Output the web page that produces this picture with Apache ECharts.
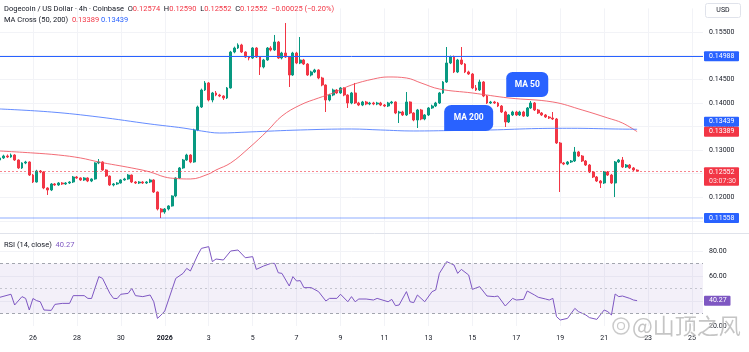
<!DOCTYPE html>
<html><head><meta charset="utf-8">
<script src="https://cdn.jsdelivr.net/npm/echarts@6/dist/echarts.min.js"></script>
<style>html,body{margin:0;padding:0;background:#fff}#c{width:749px;height:352px}</style>
</head><body><div id="c"></div>
<script>
// ---------- data ----------
const startUtc = [2025, 11, 24, 12];   // first 4h candle: 24 Dec 2025 12:00
const categoryCount = 193;             // 4h slots shown on the time axis
const tickDates = ['2025-12-26','2025-12-28','2025-12-30','2026-01-01','2026-01-03','2026-01-05','2026-01-07','2026-01-09','2026-01-11','2026-01-13','2026-01-15','2026-01-17','2026-01-19','2026-01-21','2026-01-23','2026-01-25'];
const tickLabels = ['26','28','30','2026','3','5','7','9','11','13','15','17','19','21','23','25'];

const opens = [
0.12788,0.12831,0.12873,0.12852,0.12894,0.12788,0.12619,0.12725,0.12746,0.12470,
0.12322,0.12555,0.12534,0.12195,0.12153,0.12280,0.12259,0.12301,0.12280,0.12301,
0.12322,0.12428,0.12407,0.12365,0.12407,0.12343,0.12386,0.12725,0.12746,0.12576,
0.12449,0.12259,0.12280,0.12301,0.12365,0.12386,0.12470,0.12322,0.12301,0.12322,
0.12301,0.12322,0.12365,0.12110,0.11750,0.11687,0.11750,0.11814,0.12026,0.12407,
0.12619,0.12788,0.12894,0.12746,0.13424,0.13911,0.14271,0.14420,0.14059,0.14208,
0.14165,0.14144,0.14102,0.14314,0.15076,0.15161,0.15225,0.15076,0.14970,0.14949,
0.15161,0.14970,0.14759,0.14907,0.15161,0.15119,0.15288,0.14949,0.15055,0.14970,
0.14589,0.15055,0.14843,0.14907,0.14822,0.14589,0.14653,0.14695,0.14526,0.14377,
0.14059,0.14165,0.14271,0.14208,0.14314,0.14165,0.13996,0.14208,0.13996,0.13953,
0.14017,0.13975,0.13996,0.13975,0.13996,0.13953,0.13932,0.13996,0.14017,0.13784,
0.13805,0.13742,0.14017,0.13784,0.13636,0.13848,0.13657,0.13742,0.13890,0.13932,
0.13996,0.14208,0.14441,0.14843,0.14970,0.14653,0.14907,0.14822,0.14653,0.14610,
0.14314,0.14271,0.14441,0.14144,0.13996,0.14017,0.13996,0.13932,0.13805,0.13593,
0.13742,0.13805,0.13742,0.13805,0.13720,0.13890,0.13996,0.13848,0.13784,0.13742,
0.13699,0.13678,0.13657,0.13148,0.12725,0.12703,0.12746,0.12767,0.12958,0.12873,
0.12767,0.12682,0.12534,0.12428,0.12343,0.12301,0.12534,0.12470,0.12301,0.12746,
0.12788,0.12640,0.12682,0.12619,0.12574];
const closes = [
0.12831,0.12873,0.12852,0.12894,0.12788,0.12619,0.12725,0.12746,0.12470,0.12322,
0.12555,0.12534,0.12195,0.12153,0.12280,0.12259,0.12301,0.12280,0.12301,0.12322,
0.12428,0.12407,0.12365,0.12407,0.12343,0.12386,0.12725,0.12746,0.12576,0.12449,
0.12259,0.12280,0.12301,0.12365,0.12386,0.12470,0.12322,0.12301,0.12322,0.12301,
0.12322,0.12365,0.12110,0.11750,0.11687,0.11750,0.11814,0.12026,0.12407,0.12619,
0.12788,0.12894,0.12746,0.13424,0.13911,0.14271,0.14420,0.14059,0.14208,0.14165,
0.14144,0.14102,0.14314,0.15076,0.15161,0.15225,0.15076,0.14970,0.14949,0.15161,
0.14970,0.14759,0.14907,0.15161,0.15119,0.15288,0.14949,0.15055,0.14970,0.14589,
0.15055,0.14843,0.14907,0.14822,0.14589,0.14653,0.14695,0.14526,0.14377,0.14059,
0.14165,0.14271,0.14208,0.14314,0.14165,0.13996,0.14208,0.13996,0.13953,0.14017,
0.13975,0.13996,0.13975,0.13996,0.13953,0.13932,0.13996,0.14017,0.13784,0.13805,
0.13742,0.14017,0.13784,0.13636,0.13848,0.13657,0.13742,0.13890,0.13932,0.13996,
0.14208,0.14441,0.14843,0.14970,0.14653,0.14907,0.14822,0.14653,0.14610,0.14314,
0.14271,0.14441,0.14144,0.13996,0.14017,0.13996,0.13932,0.13805,0.13593,0.13742,
0.13805,0.13742,0.13805,0.13720,0.13890,0.13996,0.13848,0.13784,0.13742,0.13699,
0.13678,0.13657,0.13148,0.12725,0.12703,0.12746,0.12767,0.12958,0.12873,0.12767,
0.12682,0.12534,0.12428,0.12343,0.12301,0.12534,0.12470,0.12301,0.12746,0.12788,
0.12640,0.12682,0.12619,0.12577,0.12552];
const lows = [
0.12760,0.12810,0.12830,0.12835,0.12770,0.12600,0.12600,0.12700,0.12450,0.12300,
0.12310,0.12510,0.12170,0.12047,0.12130,0.12240,0.12240,0.12260,0.12260,0.12280,
0.12300,0.12390,0.12345,0.12345,0.12320,0.12320,0.12370,0.12700,0.12560,0.12430,
0.12240,0.12230,0.12260,0.12290,0.12350,0.12370,0.12300,0.12280,0.12280,0.12280,
0.12280,0.12300,0.12090,0.11720,0.11558,0.11650,0.11720,0.11800,0.12000,0.12390,
0.12600,0.12770,0.12720,0.12730,0.13400,0.13890,0.14250,0.14030,0.14010,0.14140,
0.14120,0.14060,0.14080,0.14300,0.15050,0.15140,0.15055,0.14950,0.14900,0.14930,
0.14950,0.14589,0.14730,0.14890,0.15090,0.15100,0.14930,0.14920,0.14950,0.14335,
0.14570,0.14820,0.14820,0.14800,0.14570,0.14560,0.14630,0.14500,0.14350,0.13805,
0.14030,0.14140,0.14190,0.14190,0.14140,0.13890,0.13970,0.13975,0.13930,0.13930,
0.13950,0.13950,0.13950,0.13950,0.13930,0.13910,0.13910,0.13970,0.13760,0.13572,
0.13720,0.13720,0.13760,0.13610,0.13466,0.13630,0.13630,0.13720,0.13870,0.13910,
0.13975,0.14190,0.14420,0.14820,0.14630,0.14630,0.14800,0.14630,0.14590,0.14290,
0.14250,0.14250,0.14120,0.13975,0.13975,0.13975,0.13910,0.13784,0.13487,0.13572,
0.13720,0.13720,0.13720,0.13700,0.13700,0.13870,0.13826,0.13763,0.13720,0.13678,
0.13657,0.13636,0.13127,0.12110,0.12680,0.12680,0.12725,0.12746,0.12852,0.12746,
0.12661,0.12513,0.12407,0.12322,0.12195,0.12280,0.12449,0.12280,0.12004,0.12725,
0.12619,0.12619,0.12598,0.12555,0.12552];
const highs = [
0.12860,0.12900,0.12905,0.12925,0.12910,0.12800,0.12740,0.12770,0.12760,0.12490,
0.12580,0.12575,0.12550,0.12210,0.12300,0.12300,0.12320,0.12320,0.12320,0.12340,
0.12450,0.12450,0.12420,0.12425,0.12420,0.12400,0.12740,0.12809,0.12760,0.12590,
0.12460,0.12300,0.12320,0.12380,0.12410,0.12490,0.12480,0.12340,0.12340,0.12340,
0.12340,0.12390,0.12380,0.12120,0.11770,0.11770,0.11830,0.12040,0.12420,0.12640,
0.12810,0.12920,0.12910,0.13450,0.13940,0.14300,0.14460,0.14441,0.14230,0.14250,
0.14190,0.14160,0.14335,0.15100,0.15190,0.15260,0.15250,0.15090,0.14990,0.15180,
0.15180,0.14990,0.14930,0.15182,0.15200,0.15437,0.15310,0.15080,0.15691,0.14990,
0.15080,0.15080,0.15394,0.14930,0.14840,0.14680,0.14720,0.14710,0.14550,0.14390,
0.14190,0.14300,0.14290,0.14335,0.14330,0.14180,0.14230,0.14420,0.14020,0.14040,
0.14040,0.14020,0.14020,0.14020,0.14020,0.13975,0.14020,0.14040,0.14030,0.13830,
0.13830,0.14229,0.14030,0.13800,0.13870,0.13870,0.13760,0.13910,0.13960,0.14020,
0.14230,0.14460,0.15182,0.15000,0.15000,0.14930,0.15182,0.14840,0.14680,0.14630,
0.14377,0.14490,0.14460,0.14165,0.14040,0.14040,0.14017,0.13953,0.13830,0.13760,
0.13830,0.13830,0.13830,0.13830,0.13911,0.14038,0.14017,0.13870,0.13805,0.13763,
0.13720,0.13805,0.13678,0.13170,0.12746,0.12767,0.12788,0.13064,0.12980,0.12894,
0.12788,0.12703,0.12555,0.12449,0.12365,0.12555,0.12555,0.12491,0.12767,0.12809,
0.12852,0.12703,0.12703,0.12640,0.12590];

// moving averages: [candle index, value]
const ma50Points = [[0,0.12979],[9,0.12937],[16,0.12894],[22,0.12831],[27,0.12746],[36,0.12619],[41,0.12534],[45,0.12428],[48,0.12396],[52,0.12386],[57,0.12492],[59,0.12576],[63,0.12725],[68,0.13043],[73,0.13403],[77,0.13720],[82,0.13953],[87,0.14102],[91,0.14208],[96,0.14377],[102,0.14504],[106,0.14547],[111,0.14526],[115,0.14420],[120,0.14292],[129,0.14208],[139,0.14102],[151,0.14017],[159,0.13848],[166,0.13678],[170,0.13572],[174,0.13389]];
const ma200Points = [[0,0.13869],[14,0.13805],[27,0.13699],[41,0.13551],[50,0.13466],[55,0.13403],[60,0.13360],[68,0.13382],[82,0.13424],[96,0.13445],[104,0.13424],[113,0.13403],[124,0.13413],[134,0.13424],[147,0.13455],[156,0.13460],[168,0.13445],[174,0.13439]];
const rsiPoints = [[0,43],[3,45.4],[4,36.8],[6,43.5],[7,42.1],[8,32.8],[9,42],[10,40.3],[11,39.4],[12,32.8],[14,32.5],[15,37.3],[17,38.1],[19,38.1],[20,44.3],[23,44.3],[24,42.1],[25,42],[27,59.5],[28,58.1],[30,46.1],[31,42.1],[32,42],[33,45.4],[35,46.1],[36,50.1],[37,44.3],[39,43.5],[41,44.8],[42,39.4],[43,26.1],[44,28.8],[45,32],[48,58.1],[50,62.1],[51,66.1],[52,64],[54,76.8],[55,82.1],[57,83.5],[58,71.5],[59,73.6],[61,72.8],[63,80],[65,80.8],[67,74.6],[69,75.5],[70,65.3],[72,68],[74,70.1],[75,70.1],[76,62.6],[77,62.1],[79,52],[80,59.5],[81,56],[82,56.3],[83,50.7],[85,50.7],[87,47.5],[89,40],[90,42.1],[92,42.1],[93,45.4],[95,39.4],[96,43.5],[97,39.4],[98,41.6],[100,41.6],[102,40.8],[103,42.1],[106,39.4],[107,41.3],[108,36.3],[109,36.8],[111,47.5],[112,39.4],[113,38.7],[114,44.8],[116,39.4],[118,47.5],[119,48.8],[120,62.1],[122,71.5],[124,68.8],[125,62.1],[126,65.3],[128,60.8],[129,49.3],[131,51.5],[133,44],[135,43.5],[136,44],[138,36],[140,42.1],[141,40.8],[143,41.3],[144,48],[146,44.8],[147,43],[149,41.6],[150,40.8],[151,42.1],[152,27.5],[153,24.8],[155,26.1],[157,34.1],[158,31.5],[160,28.8],[161,26.7],[163,25.3],[165,32.8],[166,31.5],[167,28.8],[168,45.6],[169,43.5],[170,44],[172,42.1],[173,40.8],[174,40.27]];

const resistanceLevel = 0.14988;
const supportLevel = 0.11558;
const lastPrice = 0.12552;
const countdown = '03:07:30';
const ma50Last = 0.13389;
const ma200Last = 0.13439;
const rsiLast = 40.27;
const header = {open:'0.12574', high:'0.12590', low:'0.12552', close:'0.12552', change:'−0.00025 (−0.20%)'};

// ---------- build ----------
const pad = n => String(n).padStart(2,'0');
const categories = [];
const t0 = Date.UTC(startUtc[0], startUtc[1], startUtc[2], startUtc[3]);
for (let k = 0; k < categoryCount; k++) {
  const d = new Date(t0 + k * 4 * 3600 * 1000);
  categories.push(d.getUTCFullYear() + '-' + pad(d.getUTCMonth()+1) + '-' + pad(d.getUTCDate()) + ' ' + pad(d.getUTCHours()) + ':00');
}
const candles = opens.map((o, i) => [o, closes[i], lows[i], highs[i]]);
const isTick = (idx) => { const c = categories[idx]; return c.endsWith('00:00') && tickDates.includes(c.slice(0,10)); };

const UP = '#089981', DOWN = '#f23645', BLUE = '#2962ff', PURPLE = '#7e57c2', TXT = '#131722';
const FONT = 'Roboto, "Liberation Sans", sans-serif';
const GRIDC = '#f2f3f7';
const bubblePath = 'path://M15,0 H85 A15,15 0 0 1 100,15 V45 A15,15 0 0 1 85,60 H0 V15 A15,15 0 0 1 15,0 Z';

const xBase = (gi, showLabels) => ({
  type:'category', gridIndex: gi, data: categories, boundaryGap:false,
  axisLine:{show:false}, axisTick:{show:false},
  axisLabel: showLabels ? {
    show:true, interval:(i)=>isTick(i), margin:9, color:TXT, fontSize:7, fontFamily:FONT,
    formatter:(v)=>{ const s = tickLabels[tickDates.indexOf(v.slice(0,10))]; return s === '2026' ? '{y|2026}' : s; },
    rich:{y:{fontWeight:'bold', fontSize:7, color:TXT, fontFamily:FONT}}
  } : {show:false},
  splitLine:{show:true, interval:(i)=>isTick(i), lineStyle:{color:GRIDC, width:1}}
});

const option = {
  animation:false,
  backgroundColor:'#fff',
  grid:[
    {left:0, right:46, top:8.4, height:236},
    {left:0, right:46, top:226, height:100}
  ],
  xAxis:[xBase(0,false), xBase(1,true)],
  yAxis:[
    {type:'value', gridIndex:0, position:'right', min:0.11, max:0.16, interval:0.005,
     axisLine:{show:false}, axisTick:{show:false},
     axisLabel:{showMinLabel:false, showMaxLabel:false, margin:6, color:TXT, fontSize:7, fontFamily:FONT, formatter:v=>v.toFixed(5)},
     splitLine:{show:true, showMinLine:false, showMaxLine:false, lineStyle:{color:GRIDC}}},
    {type:'value', gridIndex:1, position:'right', min:20, max:100, interval:20,
     axisLine:{show:false}, axisTick:{show:false},
     axisLabel:{showMaxLabel:false, margin:6, color:TXT, fontSize:7, fontFamily:FONT, formatter:v=>v.toFixed(2)},
     splitLine:{show:true, showMaxLine:false, showMinLine:false, lineStyle:{color:GRIDC}}}
  ],
  series:[
    {type:'candlestick', xAxisIndex:0, yAxisIndex:0, data:candles, barWidth:2.4,
     itemStyle:{color:UP, color0:DOWN, borderColor:UP, borderColor0:DOWN, borderWidth:1},
     markLine:{silent:true, symbol:['none','none'], animation:false, precision:5, label:{show:false},
       data:[
         {yAxis:resistanceLevel, lineStyle:{color:BLUE, width:1, type:'solid'}},
         {yAxis:supportLevel, lineStyle:{color:'rgba(41,98,255,0.35)', width:1.5, type:'solid'}},
         {yAxis:lastPrice, lineStyle:{color:'rgba(242,54,69,0.6)', width:1, type:[2,2]}}
       ]},
     markPoint:{silent:true, animation:false, data:[
       {coord:[categories[144], 0.14388], symbol:bubblePath, symbolSize:[42,25], itemStyle:{color:BLUE},
        label:{show:true, formatter:'MA 50', color:'#fff', fontSize:8.5, fontWeight:'bold', fontFamily:FONT}},
       {coord:[categories[128], 0.13678], symbol:bubblePath, symbolSize:[49,26], itemStyle:{color:BLUE},
        label:{show:true, formatter:'MA 200', color:'#fff', fontSize:8.5, fontWeight:'bold', fontFamily:FONT}}
     ]}
    },
    {type:'line', name:'MA 50', xAxisIndex:0, yAxisIndex:0, data:ma50Points, smooth:0.4, showSymbol:false,
     lineStyle:{color:'#f0535f', width:1, opacity:0.85}, z:3},
    {type:'line', name:'MA 200', xAxisIndex:0, yAxisIndex:0, data:ma200Points, smooth:0.4, showSymbol:false,
     lineStyle:{color:'#4a78ff', width:1, opacity:0.85}, z:3},
    {type:'line', name:'RSI', xAxisIndex:1, yAxisIndex:1, data:rsiPoints, showSymbol:false,
     lineStyle:{color:PURPLE, width:1},
     markArea:{silent:true, itemStyle:{color:'rgba(126,87,194,0.09)'}, data:[[{yAxis:30},{yAxis:70}]]},
     markLine:{silent:true, symbol:['none','none'], label:{show:false}, precision:2,
       lineStyle:{color:'#a3a6af', type:[3,3], width:1},
       data:[{yAxis:70},{yAxis:50, lineStyle:{color:'rgba(163,166,175,0.6)', type:[2,3]}},{yAxis:30}]}
    }
  ]
};

const chart = echarts.init(document.getElementById('c'));
chart.setOption(option);

// ---------- price tags / texts ----------
const py = v => chart.convertToPixel({yAxisIndex:0}, v);
const ry = v => chart.convertToPixel({yAxisIndex:1}, v);
const TAGX = 704;
const ZTOP = 100;
function tag(cy, color, text, w) {
  w = w || 35;
  return {type:'group', x:TAGX, y:cy - 5, silent:true, z:ZTOP, children:[
    {type:'rect', z:ZTOP, shape:{x:0, y:0, width:w, height:10, r:1}, style:{fill:color}},
    {type:'text', z:ZTOP + 1, x:5, y:5, style:{text:text, fill:'#fff', font:'7px ' + FONT, verticalAlign:'middle', align:'left'}}
  ]};
}
const redY = py(ma50Last);
const blueY = Math.min(py(ma200Last), redY - 10);
const lastY = py(lastPrice);

const graphics = [
  {type:'line', shape:{x1:0, y1:233.5, x2:749, y2:233.5}, style:{stroke:'#e0e3eb', lineWidth:1}, silent:true},
  {type:'text', x:4, y:9, z:ZTOP, style:{
    text:'{t|Dogecoin / US Dollar · 4h · Coinbase}  {t|O}{r|' + header.open + '}  {t|H}{r|' + header.high + '}  {t|L}{r|' + header.low + '}  {t|C}{r|' + header.close + '}  {r|' + header.change + '}',
    font:'7.5px ' + FONT, verticalAlign:'middle',
    rich:{t:{fill:TXT, font:'7.5px ' + FONT}, r:{fill:DOWN, font:'7.5px ' + FONT}}}},
  {type:'text', x:4, y:20.5, z:ZTOP, style:{
    text:'{t|MA Cross (50, 200)}  {r|' + ma50Last.toFixed(5) + '} {b|' + ma200Last.toFixed(5) + '}',
    font:'7.5px ' + FONT, verticalAlign:'middle',
    rich:{t:{fill:TXT, font:'7.5px ' + FONT}, r:{fill:DOWN, font:'7.5px ' + FONT}, b:{fill:BLUE, font:'7.5px ' + FONT}}}},
  {type:'text', x:4, y:245, z:ZTOP, style:{
    text:'{t|RSI (14, close)}  {p|' + rsiLast.toFixed(2) + '}',
    font:'7.5px ' + FONT, verticalAlign:'middle',
    rich:{t:{fill:TXT, font:'7.5px ' + FONT}, p:{fill:PURPLE, font:'7.5px ' + FONT}}}},
  {type:'group', x:705.5, y:3.5, z:ZTOP, children:[
    {type:'rect', z:ZTOP, shape:{x:0, y:0, width:35, height:14, r:2}, style:{fill:'#fff', stroke:'#e0e3eb', lineWidth:1}},
    {type:'text', z:ZTOP + 1, x:17.5, y:7, style:{text:'USD', fill:TXT, font:'7px ' + FONT, align:'center', verticalAlign:'middle'}}
  ]},
  tag(py(resistanceLevel), BLUE, resistanceLevel.toFixed(5)),
  tag(blueY, BLUE, ma200Last.toFixed(5)),
  tag(redY, DOWN, ma50Last.toFixed(5)),
  tag(py(supportLevel), BLUE, supportLevel.toFixed(5)),
  {type:'group', x:TAGX, y:lastY - 4, silent:true, z:ZTOP, children:[
    {type:'rect', z:ZTOP, shape:{x:0, y:0, width:35, height:18.5, r:1}, style:{fill:DOWN}},
    {type:'text', z:ZTOP + 1, x:5, y:5, style:{text:lastPrice.toFixed(5), fill:'#fff', font:'7px ' + FONT, verticalAlign:'middle'}},
    {type:'text', z:ZTOP + 1, x:5, y:13.8, style:{text:countdown, fill:'rgba(255,255,255,0.85)', font:'7px ' + FONT, verticalAlign:'middle'}}
  ]},
  tag(ry(rsiLast), PURPLE, rsiLast.toFixed(2), 26.5),
  // watermark
  {type:'circle', z:ZTOP, shape:{cx:621, cy:326, r:8}, style:{fill:'none', stroke:'rgba(150,150,150,0.5)', lineWidth:1.5}, silent:true},
  {type:'circle', z:ZTOP, shape:{cx:621, cy:326, r:3.5}, style:{fill:'none', stroke:'rgba(150,150,150,0.5)', lineWidth:1.2}, silent:true},
  {type:'text', z:ZTOP, x:632, y:326, silent:true, style:{text:'@山顶之风', font:'22px "Noto Sans CJK SC"', fill:'rgba(140,140,140,0.5)', stroke:'rgba(255,255,255,0.7)', lineWidth:1, verticalAlign:'middle'}}
];
chart.setOption({graphic:graphics});
</script>
</body></html>
